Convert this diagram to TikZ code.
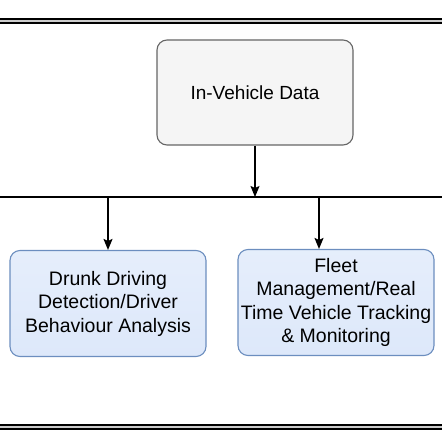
\documentclass[tikz,border=0pt]{standalone}
\usepackage{fontspec}
\setmainfont{Liberation Sans}
\usepackage{xcolor}
\usetikzlibrary{arrows.meta,calc,positioning}
\definecolor{boxgray}{HTML}{F5F5F5}
\definecolor{edgegray}{HTML}{666666}
\definecolor{boxblue}{HTML}{DDE8FA}
\definecolor{edgeblue}{HTML}{6C8EBF}

\begin{document}
\begin{tikzpicture}[x=1pt, y=1pt]
	\tikzstyle{box} = [rectangle, rounded corners = 10pt, minimum width = 196pt, inner xsep = 1pt, align = center, line width = 1.1pt]
	\tikzstyle{graybox} = [box, draw = edgegray, fill = boxgray, minimum height = 105pt, font = \fontsize{19}{23}\selectfont]
	\tikzstyle{bluebox} = [box, draw = edgeblue, top color = boxblue!75, bottom color = boxblue, minimum height = 106pt, font = \fontsize{19.5}{23.5}\selectfont]
	\tikzstyle{flow} = [line width = 1.3pt, -{Stealth[length = 11pt, width = 9pt, inset = 2pt]}]
\useasboundingbox (0,0) rectangle (442,442);
\draw[line width = 1.6pt, double = gray!40, double distance = 2pt] (0,421) -- (442,421);
\draw[line width = 1.6pt, double = gray!40, double distance = 2pt] (0,15) -- (442,15);
\node[graybox] (data) at (255, 349.5) {In-Vehicle Data};
\node[bluebox] (drunk) at (108, 138.5) {Drunk Driving\\Detection/Driver\\Behaviour Analysis};
\node[bluebox] (fleet) at (336, 139.5) {Fleet\\Management/Real\\Time Vehicle Tracking\\\& Monitoring};
\coordinate (busL) at (0, 245);
\coordinate (busR) at (442, 245);
\coordinate (busT) at (data.south |- busL);
\coordinate (busA) at (108, 245);
\coordinate (busB) at (319, 245);
	\path[draw][line width = 1.3pt] (busL) -- (busR);
	\path[draw][flow] (data.south) -- (busT);
	\path[draw][flow] (busA) -- (busA |- drunk.north);
	\path[draw][flow] (busB) -- (busB |- fleet.north);
	\end{tikzpicture}
\end{document}
